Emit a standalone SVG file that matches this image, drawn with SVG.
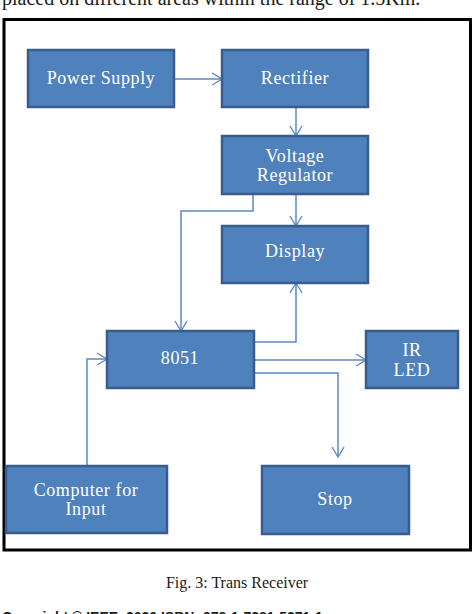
<svg xmlns="http://www.w3.org/2000/svg" width="474" height="614" viewBox="0 0 474 614">
<defs>
<style>
.box{fill:#4F81BD;stroke:#385D8A;stroke-width:2.5}
.lbl{font-family:'Liberation Serif','Times New Roman',serif;font-size:18px;fill:#FFFFFF;text-anchor:middle;letter-spacing:0.6px}
.con{fill:none;stroke:#5B8AC6;stroke-width:1.5}
.doc{font-family:'Liberation Serif','Times New Roman',serif;fill:#1a1a1a}
</style>
<marker id="arr" markerWidth="12" markerHeight="14" refX="11" refY="7" orient="auto" markerUnits="userSpaceOnUse">
<path d="M1,1 L11,7 L1,13" fill="none" stroke="#5B8AC6" stroke-width="1.4"/>
</marker>
</defs>
<rect x="0" y="0" width="474" height="614" fill="#FFFFFF"/>
<text class="doc" x="2" y="4.5" font-size="20">placed on different areas within the range of 1.5Km.</text>
<rect x="4" y="19.5" width="466.5" height="530.5" fill="#FFFFFF" stroke="#000000" stroke-width="3"/>
<g id="connectors">
<path class="con" d="M174,79 H222" marker-end="url(#arr)"/>
<path class="con" d="M296,107 V136" marker-end="url(#arr)"/>
<path class="con" d="M296,194 V226" marker-end="url(#arr)"/>
<path class="con" d="M253,194 V211 H181 V331" marker-end="url(#arr)"/>
<path class="con" d="M254,342 H296 V283" marker-end="url(#arr)"/>
<path class="con" d="M254,360 H366" marker-end="url(#arr)"/>
<path class="con" d="M254,373 H338 V457" marker-end="url(#arr)"/>
<path class="con" d="M87,466 V359 H107" marker-end="url(#arr)"/>
</g>
<g id="power-supply">
<rect class="box" x="28" y="50" width="146" height="57"/>
<text class="lbl" font-family="Liberation Serif, serif" x="101" y="84">Power Supply</text>
</g>
<g id="rectifier">
<rect class="box" x="222" y="50" width="146" height="57"/>
<text class="lbl" font-family="Liberation Serif, serif" x="295" y="84">Rectifier</text>
</g>
<g id="voltage-regulator">
<rect class="box" x="222" y="136" width="146" height="58"/>
<text class="lbl" font-family="Liberation Serif, serif" x="295" y="162">Voltage</text>
<text class="lbl" font-family="Liberation Serif, serif" x="295" y="181">Regulator</text>
</g>
<g id="display">
<rect class="box" x="222" y="226" width="146" height="57"/>
<text class="lbl" font-family="Liberation Serif, serif" x="295" y="257">Display</text>
</g>
<g id="mcu-8051">
<rect class="box" x="107" y="331" width="147" height="57"/>
<text class="lbl" font-family="Liberation Serif, serif" x="180" y="364">8051</text>
</g>
<g id="ir-led">
<rect class="box" x="366" y="331" width="92" height="57"/>
<text class="lbl" font-family="Liberation Serif, serif" x="412" y="356">IR</text>
<text class="lbl" font-family="Liberation Serif, serif" x="412" y="376">LED</text>
</g>
<g id="computer">
<rect class="box" x="6" y="466" width="161" height="67"/>
<text class="lbl" font-family="Liberation Serif, serif" x="86" y="496">Computer for</text>
<text class="lbl" font-family="Liberation Serif, serif" x="86" y="515">Input</text>
</g>
<g id="stop">
<rect class="box" x="262" y="466" width="147" height="68"/>
<text class="lbl" font-family="Liberation Serif, serif" x="335" y="505">Stop</text>
</g>
<text class="doc" x="237" y="588" font-size="16" text-anchor="middle">Fig. 3: Trans Receiver</text>
<text x="2" y="622" font-family="Liberation Sans,Arial,sans-serif" font-size="14" font-weight="bold" fill="#1a1a1a">Copyright © IEEE–2020 ISBN: 978-1-7281-5371-1</text>
</svg>
